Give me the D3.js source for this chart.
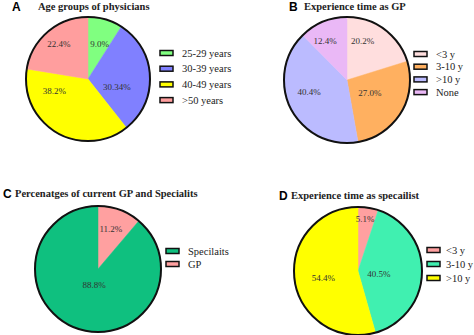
<!DOCTYPE html>
<html>
<head>
  <script src="https://cdn.jsdelivr.net/npm/d3@7"></script>
  <style>
    body { margin: 0; background: #fff; }
    svg { display: block; }
  </style>
</head>
<body>
<svg id="chart" width="474" height="335"></svg>
<script>
  // panel A: age groups
  var ageLabels = ["25-29 years", "30-39 years", "40-49 years", ">50 years"];
  var ageValues = [9.0, 30.34, 38.2, 22.4];
  var ageText = ["9.0%", "30.34%", "38.2%", "22.4%"];
  var ageColors = ["#80ff80", "#8080ff", "#ffff00", "#ff9e9e"];

  // panel B: experience as GP
  var gpLabels = ["<3 y", "3-10 y", ">10 y", "None"];
  var gpValues = [20.2, 27.0, 40.4, 12.4];
  var gpText = ["20.2%", "27.0%", "40.4%", "12.4%"];
  var gpColors = ["#ffdede", "#ffb060", "#bbbbff", "#eab8f6"];

  // panel C: GP vs specialists (slices drawn GP first, legend lists specialists first)
  var roleLabels = ["Specilaits", "GP"];
  var roleValues = [88.8, 11.2];
  var roleText = ["88.8%", "11.2%"];
  var roleColors = ["#0fc07f", "#ffa0a0"];

  // panel D: experience as specialist
  var spLabels = ["<3 y", "3-10 y", ">10 y"];
  var spValues = [5.1, 40.5, 54.4];
  var spText = ["5.1%", "40.5%", "54.4%"];
  var spColors = ["#ffa0a0", "#40f0b0", "#ffff00"];

  var svg = d3.select("#chart");

  var panels = [
    { letter: "A", title: "Age groups of physicians", labels: ageLabels, values: ageValues, text: ageText, colors: ageColors,
      cx: 88, cy: 79, r: 62, lx: 160, ly: 53, step: 15.7, tx: 12, ty: 11, titleX: 38,
      nudge: [[3, -5], [-2, 10], [-18, -15], [-9, -11]], order: [0, 1, 2, 3] },
    { letter: "B", title: "Experience time as GP", labels: gpLabels, values: gpValues, text: gpText, colors: gpColors,
      cx: 347, cy: 80, r: 63, lx: 414, ly: 54, step: 12.7, tx: 289, ty: 11, titleX: 304,
      nudge: [[-3, -14], [-4, -3], [-10, -2], [-10, -10]], order: [0, 1, 2, 3] },
    { letter: "C", title: "Percenatges of current GP and Specialits", labels: roleLabels, values: roleValues, text: roleText, colors: roleColors,
      cx: 98, cy: 269, r: 63, lx: 166, ly: 251, step: 13, tx: 3, ty: 198, titleX: 15,
      nudge: [[7, -14], [2, -10]], order: [1, 0] },
    { letter: "D", title: "Experience time as specailist", labels: spLabels, values: spValues, text: spText, colors: spColors,
      cx: 358, cy: 271, r: 64, lx: 427, ly: 250, step: 14, tx: 279, ty: 200, titleX: 291,
      nudge: [[2, -20], [-11, 2], [-3, 3]], order: [0, 1, 2], gap: 19 }
  ];

  panels.forEach(function (p) {
    var rows = p.order.map(function (i) {
      return { label: p.labels[i], value: p.values[i], text: p.text[i], color: p.colors[i], nudge: p.nudge[i] };
    });

    var pie = d3.pie().sort(null).value(function (d) { return d.value; });
    var arc = d3.arc().innerRadius(0).outerRadius(p.r);

    var g = svg.append("g").attr("transform", "translate(" + p.cx + "," + p.cy + ")");

    var slices = pie(rows);

    g.selectAll("path.slice").data(slices).enter()
      .append("path")
      .attr("class", "slice")
      .attr("fill", function (d) { return d.data.color; })
      .attr("stroke", function (d) { return d.data.color; })
      .attr("stroke-width", 0.5)
      .attr("d", arc);

    g.append("circle")
      .attr("r", p.r)
      .attr("fill", "none")
      .attr("stroke", "#111")
      .attr("stroke-width", 2);

    g.selectAll("text.pct").data(slices).enter()
      .append("text")
      .attr("class", "pct")
      .attr("x", function (d) { return arc.centroid(d)[0] + d.data.nudge[0]; })
      .attr("y", function (d) { return arc.centroid(d)[1] + d.data.nudge[1]; })
      .attr("text-anchor", "middle")
      .attr("dominant-baseline", "central")
      .attr("font-family", "Liberation Serif, serif")
      .attr("font-size", 9)
      .attr("fill", "#333")
      .text(function (d) { return d.data.text; });

    // panel letter and title
    svg.append("text")
      .attr("x", p.tx)
      .attr("y", p.ty)
      .attr("font-family", "Liberation Sans, Arial, sans-serif")
      .attr("font-weight", "bold")
      .attr("font-size", 12)
      .text(p.letter);

    svg.append("text")
      .attr("x", p.titleX)
      .attr("y", p.ty - 1)
      .attr("font-family", "Liberation Serif, serif")
      .attr("font-weight", "bold")
      .attr("font-size", 10.5)
      .attr("fill", "#222")
      .text(p.title);

    // legend
    var leg = svg.append("g");
    var items = leg.selectAll("g").data(p.labels).enter()
      .append("g")
      .attr("transform", function (d, i) { return "translate(" + p.lx + "," + (p.ly + i * p.step) + ")"; });

    items.append("rect")
      .attr("x", 0)
      .attr("y", -2.5)
      .attr("width", 13)
      .attr("height", 5)
      .attr("fill", function (d, i) { return p.colors[i]; })
      .attr("stroke", "#111")
      .attr("stroke-width", 1.5);

    items.append("text")
      .attr("x", p.gap || 22)
      .attr("y", 0)
      .attr("dominant-baseline", "central")
      .attr("font-family", "Liberation Serif, serif")
      .attr("font-size", 10.5)
      .attr("fill", "#222")
      .text(function (d) { return d; });
  });
</script>
</body>
</html>
